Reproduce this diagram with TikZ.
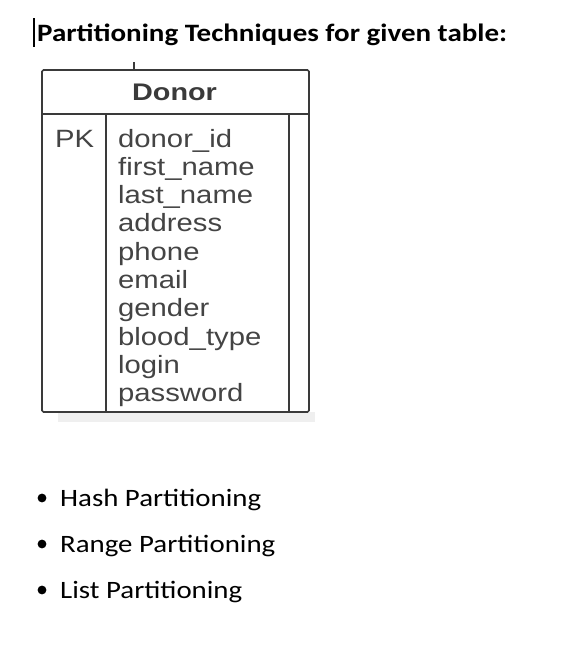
\documentclass[tikz,border=0pt]{standalone}
\usepackage{fontspec}
\setmainfont{Carlito}
\newfontfamily\arialfont{Liberation Sans}
\usepackage{xcolor}
\usepackage{graphicx}
\usetikzlibrary{positioning,calc}
\definecolor{linegray}{HTML}{3A3A3A}
\definecolor{fieldgray}{HTML}{444444}
\definecolor{shadowgray}{HTML}{EFEFEF}
\newcommand{\wide}[1]{\scalebox{1.17}[1]{#1}}

\begin{document}
\begin{tikzpicture}[x=1pt,y=-1pt,
	tablebox/.style={draw=linegray,line width=1.6pt},
	field/.style={inner sep=0pt,anchor=base west,text=fieldgray,font=\arialfont\fontsize{25}{28}\selectfont},
	bullettext/.style={inner sep=0pt,anchor=base west,font=\fontsize{25}{30}\selectfont}]
	\useasboundingbox (0,0) rectangle (571,648);
	
	% title with the text cursor
	\draw[line width=1.2pt] (34,18) -- (34,47);
	\node[inner sep=0pt,anchor=base west,font=\bfseries\fontsize{25}{30}\selectfont] (title) at (37,41) {\scalebox{1.16}[1]{Partitioning Techniques for given table:}};
	
	% table Donor
	\fill[shadowgray] (58,412) rectangle (315,422);
	\draw[tablebox,rounded corners=1.5pt] (42,70) rectangle (309,412);
	\draw[tablebox] (42,114) -- (309,114);
	\draw[tablebox] (106,114) -- (106,412);
	\draw[tablebox] (289,114) -- (289,412);
	\draw[linegray,line width=1.4pt] (134,62) -- (134,70);
	\node[inner sep=0pt,font=\arialfont\bfseries\fontsize{24}{28}\selectfont,text=linegray] (donor) at (174.5,92) {\scalebox{1.2}[1]{Donor}};
	\node[field] (pk) at (55,147) {\wide{PK}};
	\foreach \f [count=\i from 0] in {donor\_id,first\_name,last\_name,address,phone,email,gender,blood\_type,login,password}
		\node[field] (f\i) at (118,147+28.3*\i) {\wide{\f}};
	
	% techniques
	\foreach \t [count=\i from 0] in {Hash Partitioning,Range Partitioning,List Partitioning}{
		\fill (42,498+46*\i) circle (4.4pt);
		\node[bullettext] (t\i) at (60,506+46*\i) {\scalebox{1.155}[1]{\t}};
	}
\end{tikzpicture}
\end{document}
